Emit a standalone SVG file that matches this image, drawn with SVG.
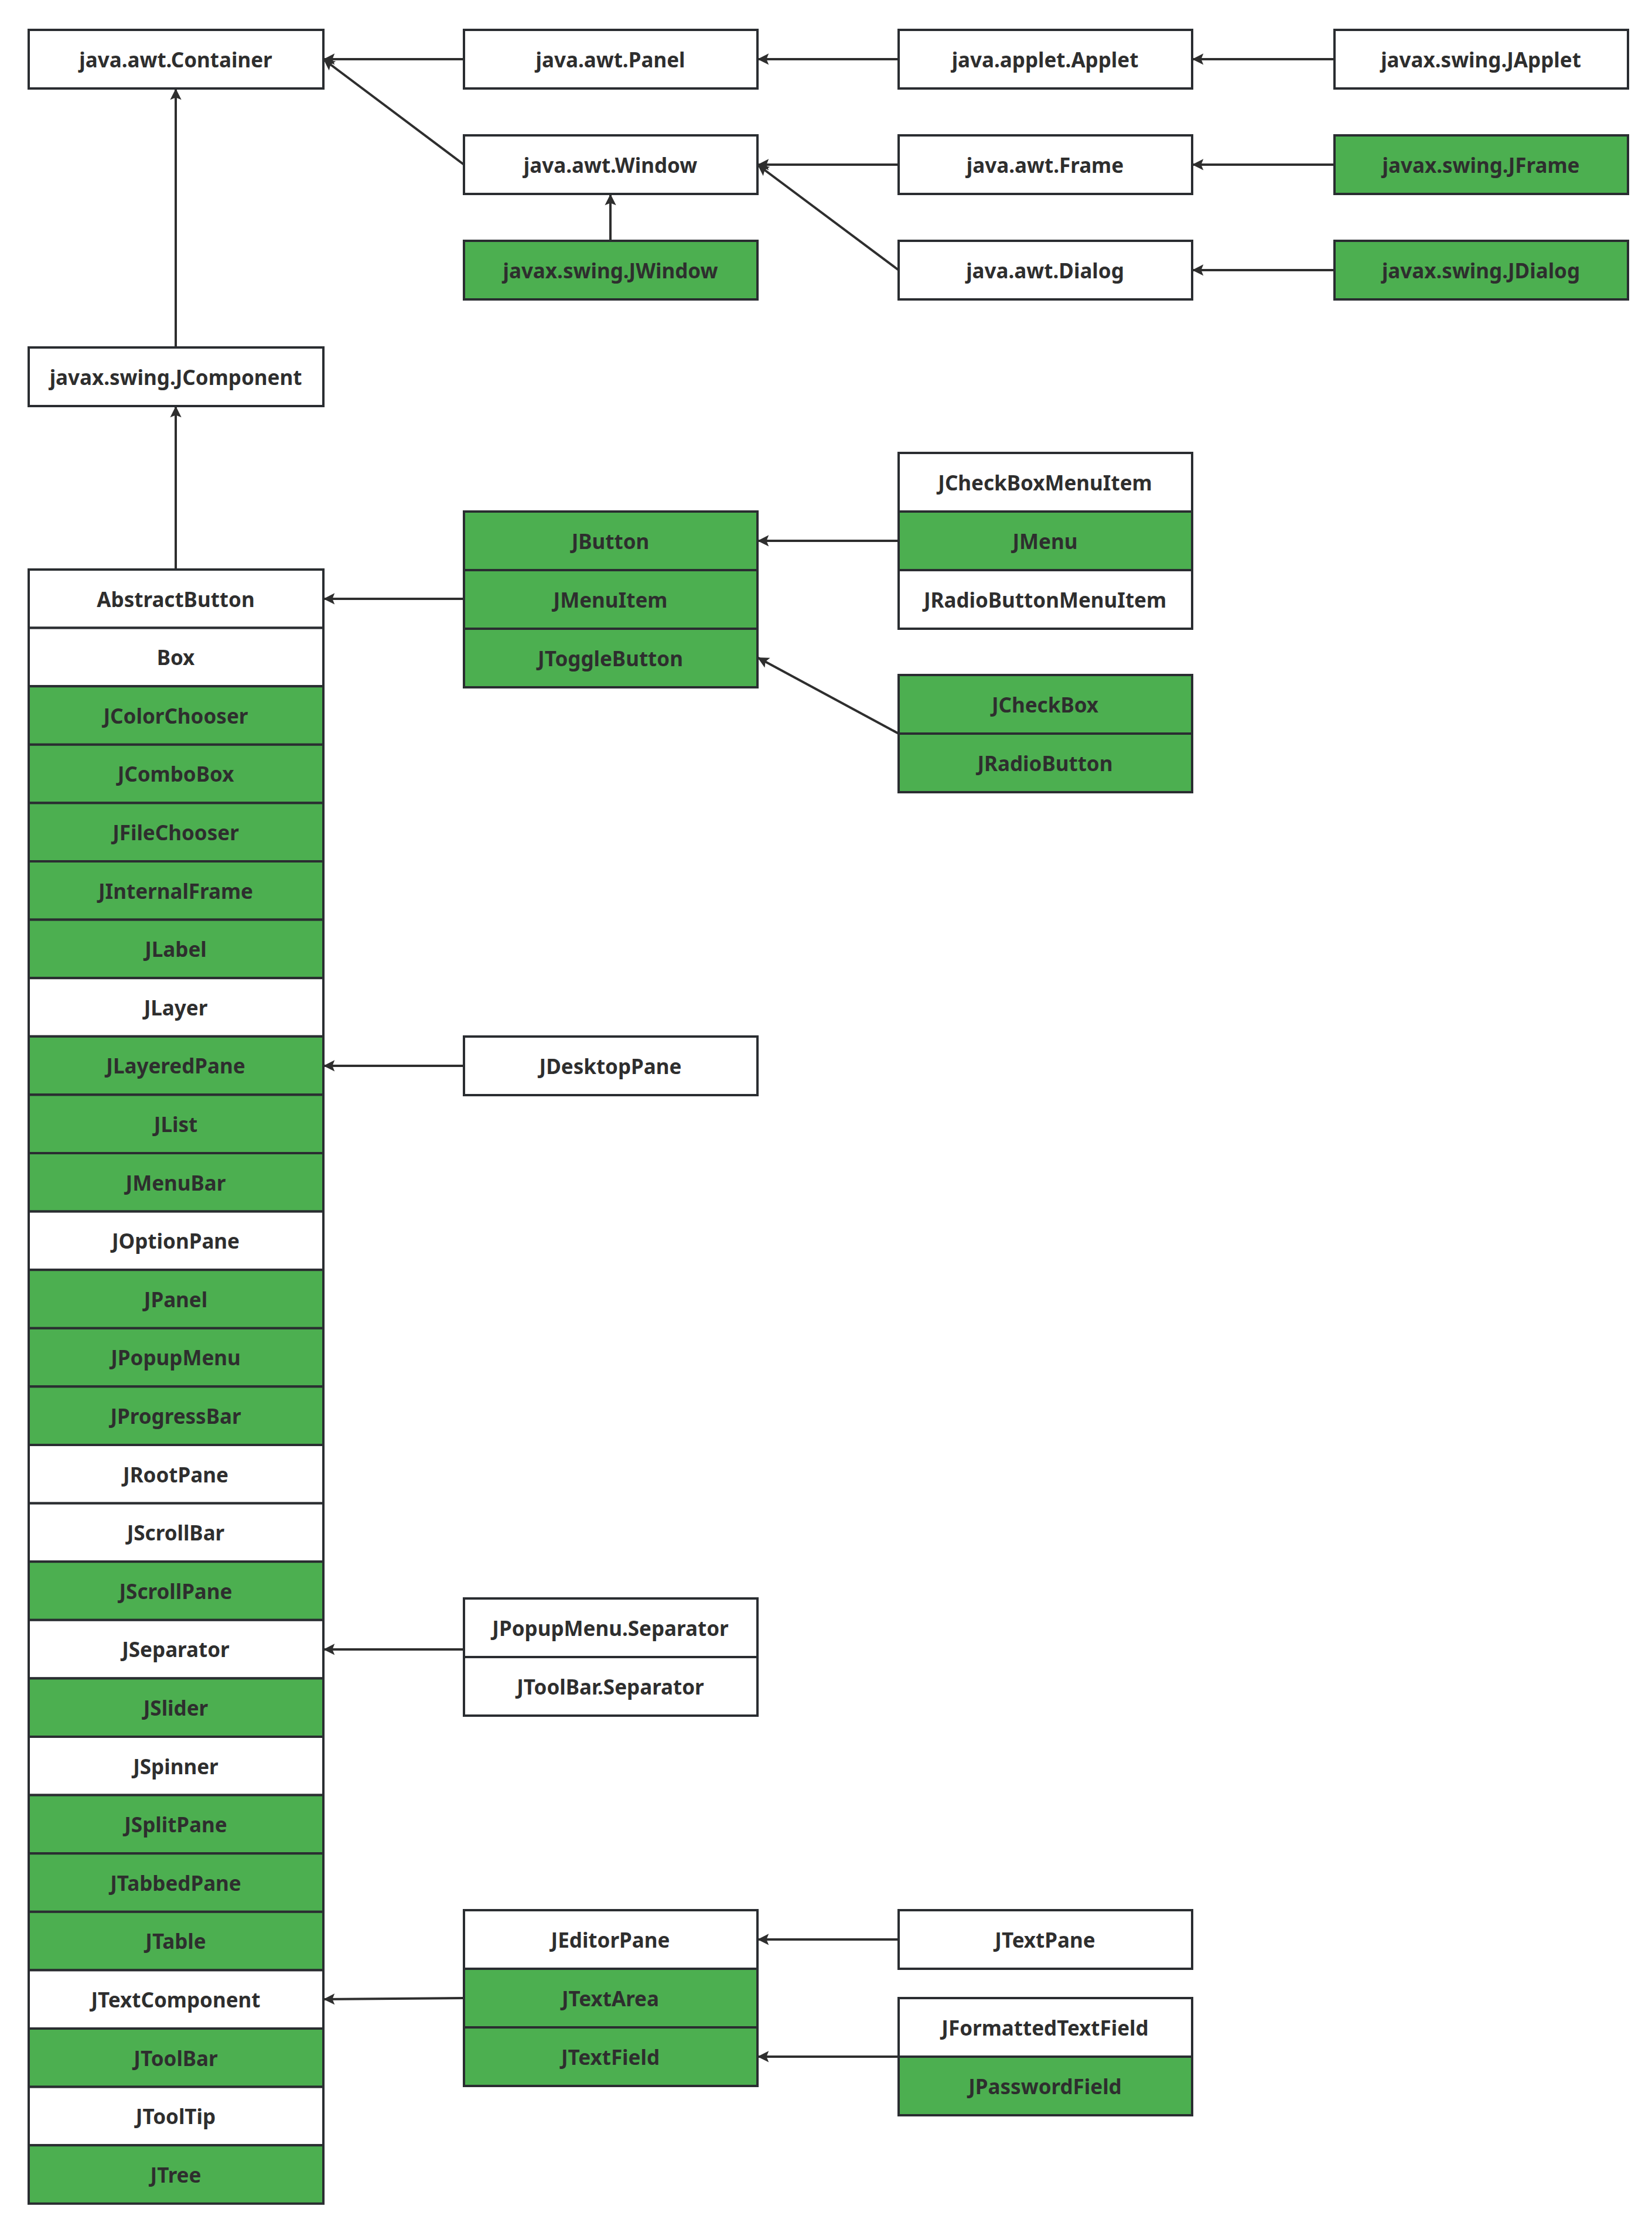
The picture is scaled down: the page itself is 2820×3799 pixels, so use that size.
<svg xmlns="http://www.w3.org/2000/svg" width="2820" height="3799" viewBox="0 0 2820 3799">
<style>
rect{stroke:#2a2d31;stroke-width:4}
.w{fill:#fff}.g{fill:#4caf50}
text{font-family:"Noto Sans","Liberation Sans",sans-serif;font-weight:bold;font-size:35px;fill:#2e2e2e;text-anchor:middle;dominant-baseline:central}
.c line{stroke:#2e2e2e;stroke-width:4;marker-end:url(#a)}
</style>
<defs><marker id="a" viewBox="0 0 10 10" refX="10" refY="5" markerWidth="6" markerHeight="6" orient="auto" markerUnits="userSpaceOnUse" style="overflow:visible"><path d="M0,0 L10,5 L0,10 L2,5 Z" fill="#2e2e2e" transform="scale(3.2) translate(-6.9,-3.4)"/></marker></defs>
<rect width="2820" height="3799" fill="#fff" style="stroke:none"/>
<g class="c">
<line x1="792" y1="101" x2="552" y2="101"/>
<line x1="792" y1="281" x2="552" y2="101"/>
<line x1="1534" y1="101" x2="1293" y2="101"/>
<line x1="2278" y1="101" x2="2035" y2="101"/>
<line x1="1534" y1="281" x2="1293" y2="281"/>
<line x1="2278" y1="281" x2="2035" y2="281"/>
<line x1="1534" y1="461" x2="1293" y2="281"/>
<line x1="2278" y1="461" x2="2035" y2="461"/>
<line x1="1042" y1="411" x2="1042" y2="331"/>
<line x1="300" y1="593" x2="300" y2="151"/>
<line x1="300" y1="972" x2="300" y2="693"/>
<line x1="792" y1="1022" x2="552" y2="1022"/>
<line x1="1534" y1="923" x2="1293" y2="923"/>
<line x1="1534" y1="1252" x2="1293" y2="1122"/>
<line x1="792" y1="1819" x2="552" y2="1819"/>
<line x1="792" y1="2815" x2="552" y2="2815"/>
<line x1="792" y1="3410" x2="552" y2="3412"/>
<line x1="1534" y1="3310" x2="1293" y2="3310"/>
<line x1="1534" y1="3510" x2="1293" y2="3510"/>
</g>
<g id="container"><rect class="w" x="49" y="51" width="503" height="100"/><text x="300" y="101">java.awt.Container</text></g>
<g id="panel"><rect class="w" x="792" y="51" width="501" height="100"/><text x="1042" y="101">java.awt.Panel</text></g>
<g id="applet"><rect class="w" x="1534" y="51" width="501" height="100"/><text x="1784" y="101">java.applet.Applet</text></g>
<g id="japplet"><rect class="w" x="2278" y="51" width="501" height="100"/><text x="2528" y="101">javax.swing.JApplet</text></g>
<g id="window"><rect class="w" x="792" y="231" width="501" height="100"/><text x="1042" y="281">java.awt.Window</text></g>
<g id="frame"><rect class="w" x="1534" y="231" width="501" height="100"/><text x="1784" y="281">java.awt.Frame</text></g>
<g id="jframe"><rect class="g" x="2278" y="231" width="501" height="100"/><text x="2528" y="281">javax.swing.JFrame</text></g>
<g id="jwindow"><rect class="g" x="792" y="411" width="501" height="100"/><text x="1042" y="461">javax.swing.JWindow</text></g>
<g id="dialog"><rect class="w" x="1534" y="411" width="501" height="100"/><text x="1784" y="461">java.awt.Dialog</text></g>
<g id="jdialog"><rect class="g" x="2278" y="411" width="501" height="100"/><text x="2528" y="461">javax.swing.JDialog</text></g>
<g id="jcomponent"><rect class="w" x="49" y="593" width="503" height="100"/><text x="300" y="643">javax.swing.JComponent</text></g>
<g id="menuitems">
<rect class="w" x="1534" y="773" width="501" height="100"/><text x="1784" y="823">JCheckBoxMenuItem</text>
<rect class="g" x="1534" y="873" width="501" height="100"/><text x="1784" y="923">JMenu</text>
<rect class="w" x="1534" y="973" width="501" height="100"/><text x="1784" y="1023">JRadioButtonMenuItem</text>
</g>
<g id="buttons">
<rect class="g" x="792" y="873" width="501" height="100"/><text x="1042" y="923">JButton</text>
<rect class="g" x="792" y="973" width="501" height="100"/><text x="1042" y="1023">JMenuItem</text>
<rect class="g" x="792" y="1073" width="501" height="100"/><text x="1042" y="1123">JToggleButton</text>
</g>
<g id="toggles">
<rect class="g" x="1534" y="1152" width="501" height="100"/><text x="1784" y="1202">JCheckBox</text>
<rect class="g" x="1534" y="1252" width="501" height="100"/><text x="1784" y="1302">JRadioButton</text>
</g>
<g id="desktop"><rect class="w" x="792" y="1769" width="501" height="100"/><text x="1042" y="1819">JDesktopPane</text></g>
<g id="separators">
<rect class="w" x="792" y="2728" width="501" height="100"/><text x="1042" y="2778">JPopupMenu.Separator</text>
<rect class="w" x="792" y="2828" width="501" height="100"/><text x="1042" y="2878">JToolBar.Separator</text>
</g>
<g id="editors">
<rect class="w" x="792" y="3260" width="501" height="100"/><text x="1042" y="3310">JEditorPane</text>
<rect class="g" x="792" y="3360" width="501" height="100"/><text x="1042" y="3410">JTextArea</text>
<rect class="g" x="792" y="3460" width="501" height="100"/><text x="1042" y="3510">JTextField</text>
</g>
<g id="textpane"><rect class="w" x="1534" y="3260" width="501" height="100"/><text x="1784" y="3310">JTextPane</text></g>
<g id="fields">
<rect class="w" x="1534" y="3410" width="501" height="100"/><text x="1784" y="3460">JFormattedTextField</text>
<rect class="g" x="1534" y="3510" width="501" height="100"/><text x="1784" y="3560">JPasswordField</text>
</g>
<g id="list">
<rect class="w" x="49" y="972" width="503" height="99.6"/><text x="300" y="1022">AbstractButton</text>
<rect class="w" x="49" y="1071.6" width="503" height="99.6"/><text x="300" y="1121.6">Box</text>
<rect class="g" x="49" y="1171.2" width="503" height="99.6"/><text x="300" y="1221.2">JColorChooser</text>
<rect class="g" x="49" y="1270.8" width="503" height="99.6"/><text x="300" y="1320.8">JComboBox</text>
<rect class="g" x="49" y="1370.4" width="503" height="99.6"/><text x="300" y="1420.4">JFileChooser</text>
<rect class="g" x="49" y="1470" width="503" height="99.6"/><text x="300" y="1520">JInternalFrame</text>
<rect class="g" x="49" y="1569.6" width="503" height="99.6"/><text x="300" y="1619.6">JLabel</text>
<rect class="w" x="49" y="1669.2" width="503" height="99.6"/><text x="300" y="1719.2">JLayer</text>
<rect class="g" x="49" y="1768.8" width="503" height="99.6"/><text x="300" y="1818.8">JLayeredPane</text>
<rect class="g" x="49" y="1868.4" width="503" height="99.6"/><text x="300" y="1918.4">JList</text>
<rect class="g" x="49" y="1968" width="503" height="99.6"/><text x="300" y="2018">JMenuBar</text>
<rect class="w" x="49" y="2067.6" width="503" height="99.6"/><text x="300" y="2117.6">JOptionPane</text>
<rect class="g" x="49" y="2167.2" width="503" height="99.6"/><text x="300" y="2217.2">JPanel</text>
<rect class="g" x="49" y="2266.8" width="503" height="99.6"/><text x="300" y="2316.8">JPopupMenu</text>
<rect class="g" x="49" y="2366.4" width="503" height="99.6"/><text x="300" y="2416.4">JProgressBar</text>
<rect class="w" x="49" y="2466" width="503" height="99.6"/><text x="300" y="2516">JRootPane</text>
<rect class="w" x="49" y="2565.6" width="503" height="99.6"/><text x="300" y="2615.6">JScrollBar</text>
<rect class="g" x="49" y="2665.2" width="503" height="99.6"/><text x="300" y="2715.2">JScrollPane</text>
<rect class="w" x="49" y="2764.8" width="503" height="99.6"/><text x="300" y="2814.8">JSeparator</text>
<rect class="g" x="49" y="2864.4" width="503" height="99.6"/><text x="300" y="2914.4">JSlider</text>
<rect class="w" x="49" y="2964" width="503" height="99.6"/><text x="300" y="3014">JSpinner</text>
<rect class="g" x="49" y="3063.6" width="503" height="99.6"/><text x="300" y="3113.6">JSplitPane</text>
<rect class="g" x="49" y="3163.2" width="503" height="99.6"/><text x="300" y="3213.2">JTabbedPane</text>
<rect class="g" x="49" y="3262.8" width="503" height="99.6"/><text x="300" y="3312.8">JTable</text>
<rect class="w" x="49" y="3362.4" width="503" height="99.6"/><text x="300" y="3412.4">JTextComponent</text>
<rect class="g" x="49" y="3462" width="503" height="99.6"/><text x="300" y="3512">JToolBar</text>
<rect class="w" x="49" y="3561.6" width="503" height="99.6"/><text x="300" y="3611.6">JToolTip</text>
<rect class="g" x="49" y="3661.2" width="503" height="99.6"/><text x="300" y="3711.2">JTree</text>
</g>
</svg>
